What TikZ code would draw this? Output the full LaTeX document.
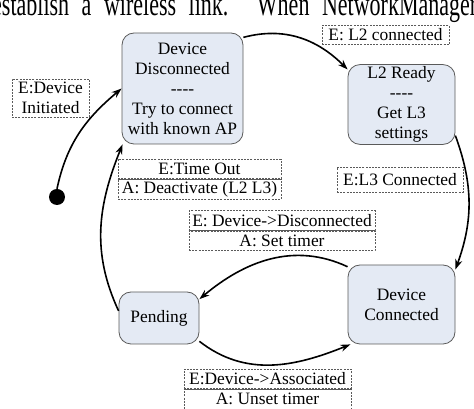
\documentclass[tikz,border=0pt]{standalone}
\usepackage{fontspec}
\setmainfont{Liberation Serif}
\usetikzlibrary{positioning,arrows.meta}
\definecolor{stfill}{RGB}{228,234,244}
\definecolor{stline}{RGB}{90,90,90}

\begin{document}
\begin{tikzpicture}[x=1pt, y=1pt,
    font=\fontsize{17.4}{20}\selectfont,
    stbox/.style={draw=stline, fill=stfill, line width=0.8pt, rounded corners=12pt, align=center, inner sep=2pt},
    evbox/.style={draw=stline, dash pattern=on 2pt off 1.2pt, line width=0.7pt, align=center, inner sep=1.5pt, minimum height=19.5pt},
    divline/.style={draw=stline, line width=0.8pt},
    trans/.style={-{Stealth[length=10pt,width=7pt]}, line width=1.6pt}]
    \useasboundingbox (0,0) rectangle (474,409);
    \clip (0,0) rectangle (474,409);

    % line of the page text above the figure
    \node[anchor=base west, inner sep=0pt, font=\fontsize{22}{26}\selectfont] (pageline) at (-8,393) {\scalebox{1}[1.5]{\makebox[485pt][s]{establish a wireless link. When NetworkManager}}};

    % states
    \node[stbox, minimum width=121pt, minimum height=111pt] (disc) at (182.5,320.5) {Device\\Disconnected\\{-}{-}{-}{-}\\Try to connect\\with known AP};
    \node[stbox, minimum width=107pt, minimum height=79pt] (l2) at (401.5,304.5) {L2 Ready\\{-}{-}{-}{-}\\Get L3\\settings};
    \node[stbox, minimum width=107pt, minimum height=79pt] (conn) at (401.5,104.5) {Device\\Connected};
    \node[stbox, minimum width=80pt, minimum height=52pt] (pend) at (159,91) {Pending};
    \node[circle, fill=black, minimum size=16pt, inner sep=0pt] (start) at (57,212) {};

    % events and actions
    \node[evbox, minimum width=77pt, minimum height=38pt] (initE) at (50.5,311) {E:Device\\Initiated};
    \node[evbox, minimum width=127pt] (l2E) at (385.5,374) {E: L2 connected};
    \node[evbox, minimum width=126pt, minimum height=25pt] (l3E) at (400,229.5) {E:L3 Connected};

    \node[evbox, minimum width=163pt] (toutE) at (199.5,240) {E:Time Out};
    \node[evbox, minimum width=163pt, below=0pt of toutE] (toutA) {A: Deactivate (L2 L3)};
    \draw[divline] (toutE.south west) -- (toutE.south east);

    \node[evbox, minimum width=186pt] (discE) at (282,188.5) {E: Device->Disconnected};
    \node[evbox, minimum width=186pt, below=0pt of discE] (discA) {A: Set timer};
    \draw[divline] (discE.south west) -- (discE.south east);

    \node[evbox, minimum width=167pt] (assocE) at (267.5,30) {E:Device->Associated};
    \node[evbox, minimum width=167pt, below=0pt of assocE] (assocA) {A: Unset timer};
    \draw[divline] (assocE.south west) -- (assocE.south east);

    % transitions
    \draw[trans] (start.north) to[out=78, in=220] (disc.west);
    \draw[trans] (disc.40) to[out=15, in=135] (l2.147);
    \draw[trans] (l2.-30) to[out=-70, in=70] (conn.33);
    \draw[trans] (conn.145) to[out=155, in=40] (pend.25);
    \draw[trans] (pend.-30) to[out=-38, in=202] (conn.218);
    \draw[trans] (pend.170) to[out=115, in=-112] (disc.223);
\end{tikzpicture}
\end{document}
